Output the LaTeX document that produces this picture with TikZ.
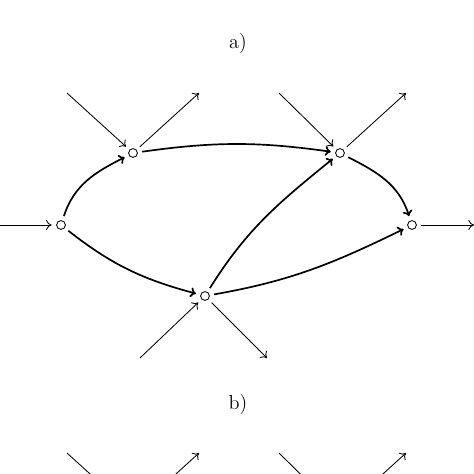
\documentclass[tikz,border=0pt]{standalone}
\usepackage{amsmath,amsfonts}
\usepackage{tikz}
\usetikzlibrary{arrows.meta}

\begin{document}
\begin{tikzpicture}[>={To[length=4pt,width=7pt]}, vnode/.style={draw,circle,minimum size=0.22cm,inner sep=0pt,outer sep=3.5pt,line width=0.6pt}, sarrow/.style={->,line width=0.6pt}, farrow/.style={->,line width=1.2pt}]
    \useasboundingbox (0,0) rectangle (11.85,-11.85);
    \clip (0,0) rectangle (11.85,-11.85);
    \node (la) at (5.95,-1.075) {\Large a)};
    \node (lb) at (5.95,-10.1) {\Large b)};

    \node[vnode] (1) at (1.525,-5.625) {};
    \node[vnode] (2) at (3.325,-3.825) {};
    \node[vnode] (3) at (8.5,-3.825) {};
    \node[vnode] (4) at (10.3,-5.625) {};
    \node[vnode] (5) at (5.125,-7.4) {};

    \coordinate (1i) at (0,-5.625);
    \coordinate (2i) at (1.675,-2.325);
    \coordinate (2o) at (4.975,-2.325);
    \coordinate (3i) at (6.975,-2.325);
    \coordinate (3o) at (10.15,-2.325);
    \coordinate (4o) at (11.85,-5.625);
    \coordinate (5i) at (3.5,-8.95);
    \coordinate (5o) at (6.675,-8.95);

    \draw[sarrow] (1i) -- (1) ;
    \draw[sarrow] (2i) -- (2) ;
    \draw[sarrow] (2) -- (2o) ;
    \draw[sarrow] (3i) -- (3) ;
    \draw[sarrow] (3) -- (3o) ;
    \draw[sarrow] (4) -- (4o) ;
    \draw[sarrow] (5i) -- (5) ;
    \draw[sarrow] (5) -- (5o) ;

    \draw[farrow] (1) to [out=72, in=207] (2) ;
    \draw[farrow] (2) to [bend left=8] (3) ;
    \draw[farrow] (3) to [out=-27, in=108] (4) ;
    \draw[farrow] (1) to [out=-38, in=165] (5) ;
    \draw[farrow] (5) to [out=58, in=219] (3) ;
    \draw[farrow] (5) to [out=10, in=206] (4) ;

    % next diagram, cut by the frame
    \coordinate (b2) at (3.325,-12.825);
    \coordinate (b3) at (8.5,-12.825);
    \coordinate (b2i) at (1.675,-11.325);
    \coordinate (b2o) at (4.975,-11.325);
    \coordinate (b3i) at (6.975,-11.325);
    \coordinate (b3o) at (10.15,-11.325);
    \draw[sarrow, shorten >=7pt] (b2i) -- (b2) ;
    \draw[sarrow, shorten <=7pt] (b2) -- (b2o) ;
    \draw[sarrow, shorten >=7pt] (b3i) -- (b3) ;
    \draw[sarrow, shorten <=7pt] (b3) -- (b3o) ;
\end{tikzpicture}
\end{document}
